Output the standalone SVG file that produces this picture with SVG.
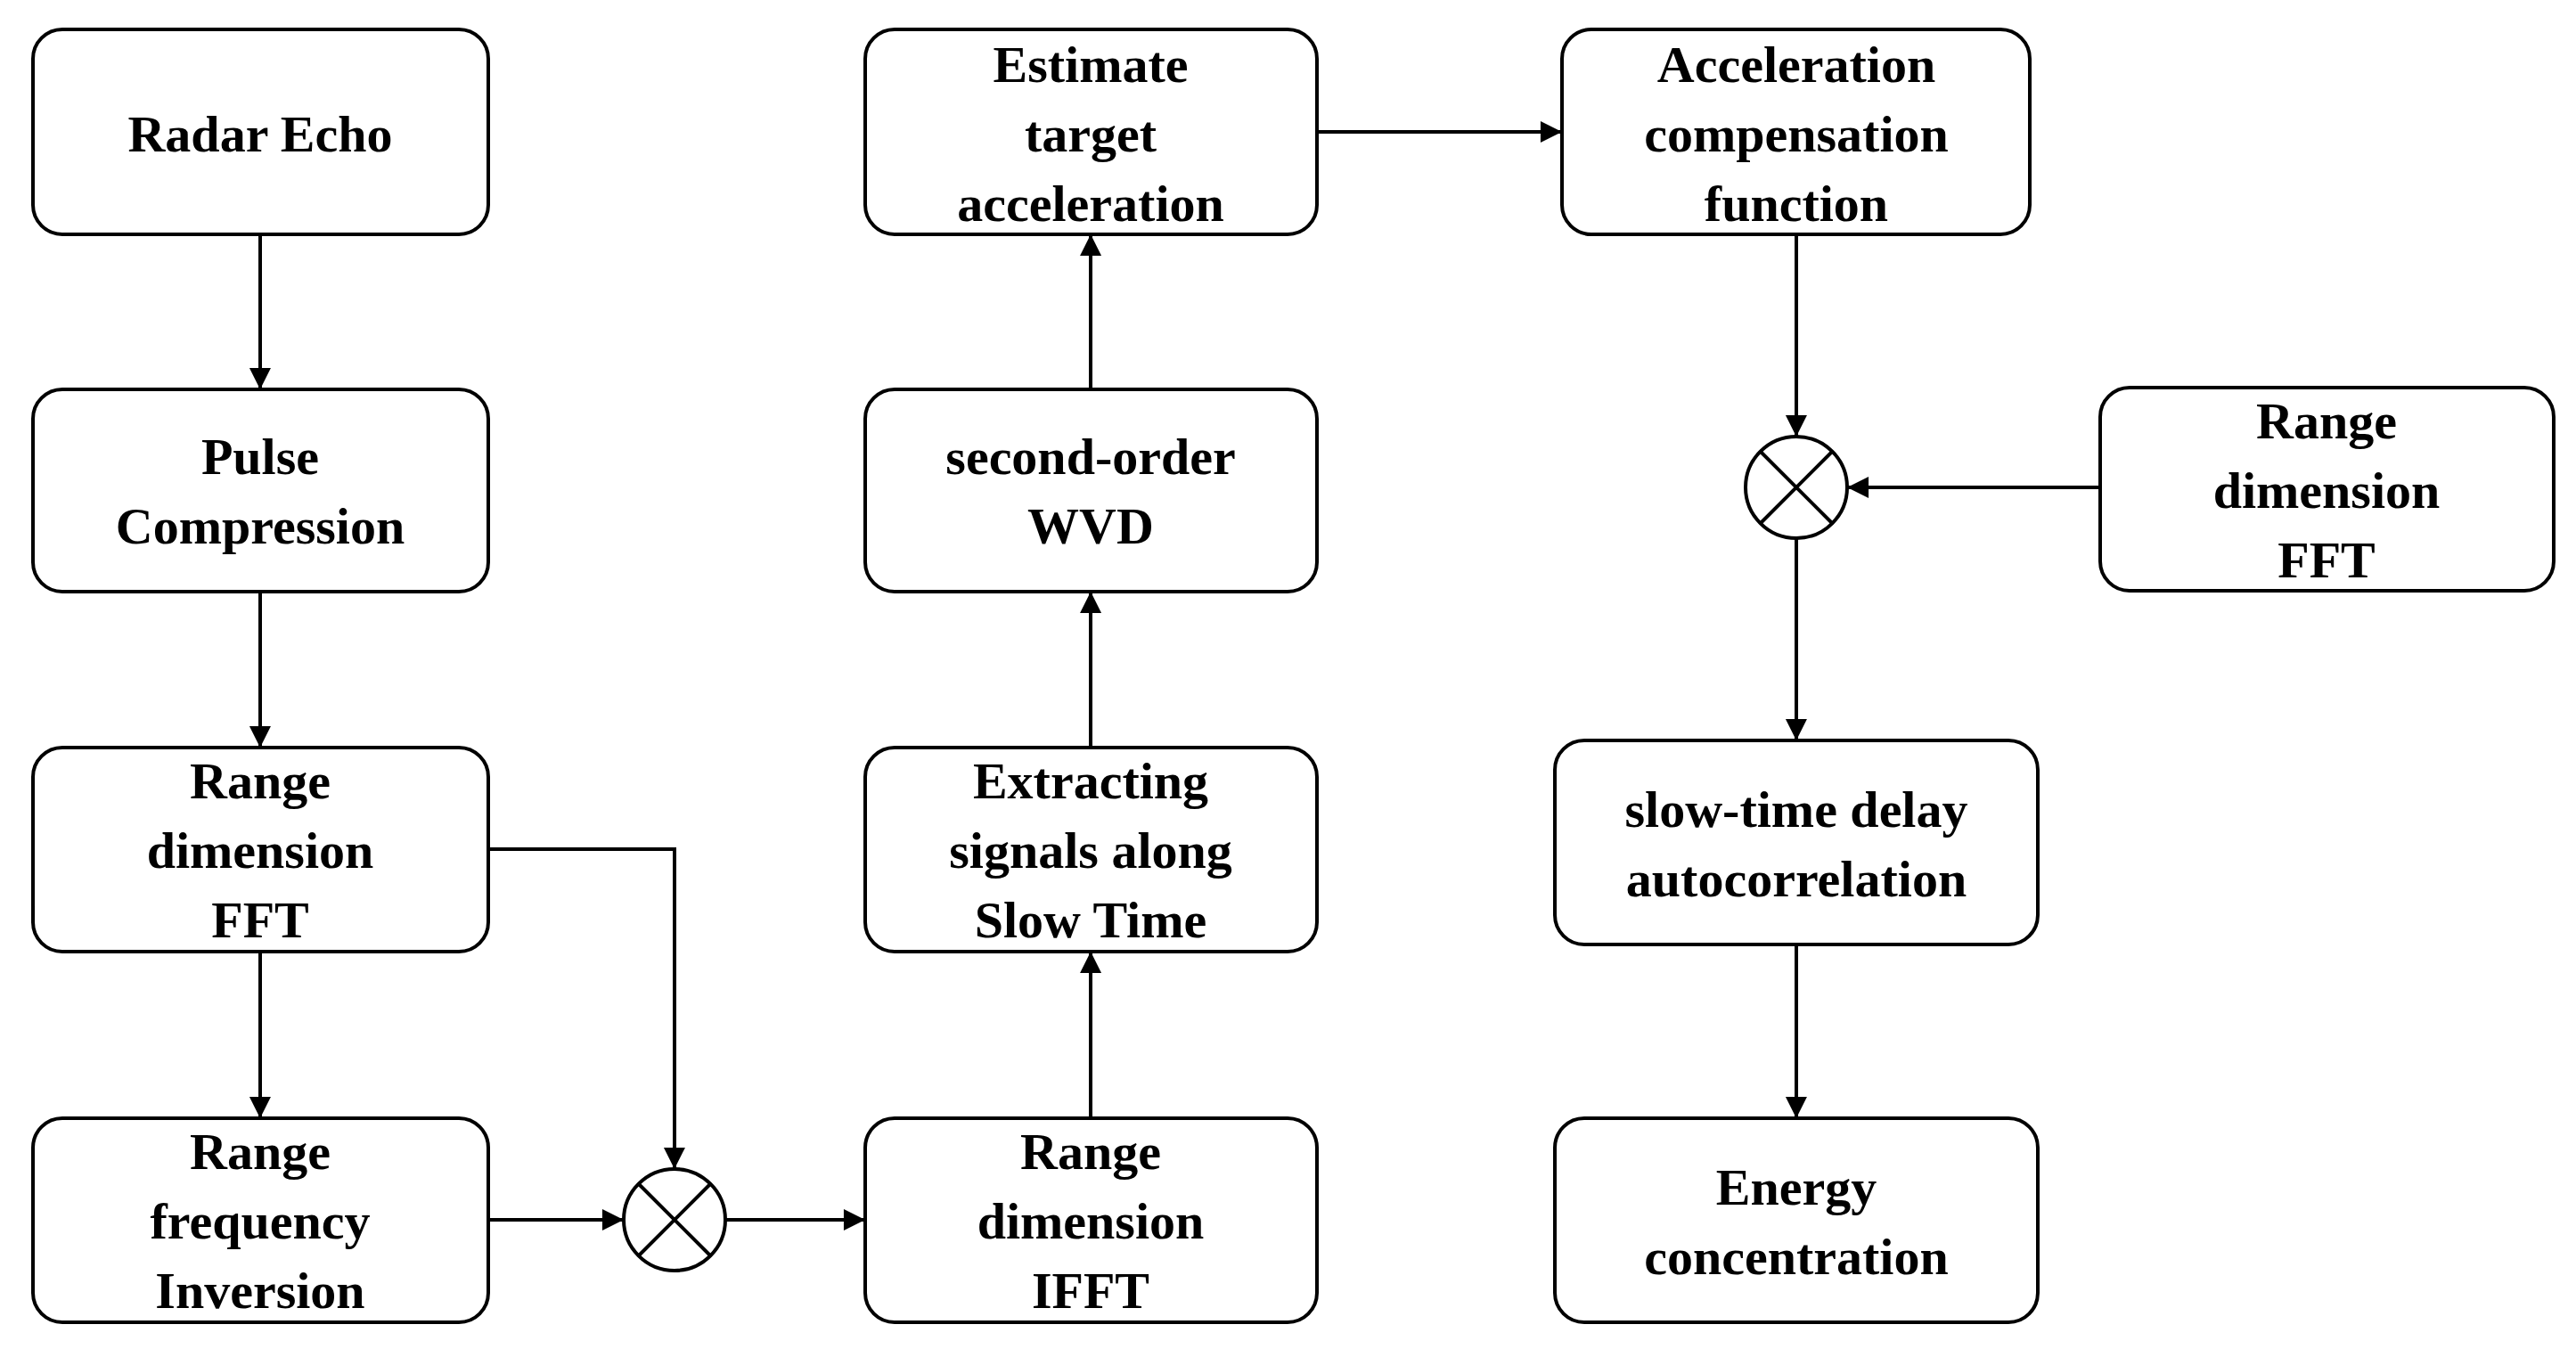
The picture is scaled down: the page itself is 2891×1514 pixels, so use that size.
<svg xmlns="http://www.w3.org/2000/svg" width="2891" height="1514" viewBox="0 0 2891 1514">
<style>
.b{fill:#fff;stroke:#000;stroke-width:4}
.t{font-family:"Liberation Serif",serif;font-weight:bold;font-size:58px;text-anchor:middle;dominant-baseline:central}
.c{fill:none;stroke:#000;stroke-width:4;marker-end:url(#a)}
</style>
<defs><marker id="a" viewBox="0 0 10 10" refX="10" refY="5" markerWidth="8" markerHeight="8" markerUnits="userSpaceOnUse" orient="auto" style="overflow:visible"><path d="M0,0L10,5L0,10z" transform="scale(3)translate(-6.7,-3.3)"/></marker></defs>
<rect width="2891" height="1514" fill="#fff"/>
<g id="connectors">
<path class="c" d="M292,263V437"/>
<path class="c" d="M292,664V839"/>
<path class="c" d="M292,1068V1255"/>
<path class="c" d="M548,953H757V1312"/>
<path class="c" d="M548,1369H700"/>
<path class="c" d="M814,1369H971"/>
<path class="c" d="M1224,1255V1068"/>
<path class="c" d="M1224,839V664"/>
<path class="c" d="M1224,437V263"/>
<path class="c" d="M1478,148H1753"/>
<path class="c" d="M2016,263V490"/>
<path class="c" d="M2357,547H2073"/>
<path class="c" d="M2016,604V831"/>
<path class="c" d="M2016,1060V1255"/>
</g>
<g id="radar"><rect class="b" x="37" y="33" width="511" height="230" rx="33"/><text class="t" x="292" y="150">Radar Echo</text></g>
<g id="pulse"><rect class="b" x="37" y="437" width="511" height="227" rx="33"/><text class="t" x="292" y="512">Pulse</text><text class="t" x="292" y="590">Compression</text></g>
<g id="fft1"><rect class="b" x="37" y="839" width="511" height="229" rx="33"/><text class="t" x="292" y="876">Range</text><text class="t" x="292" y="954">dimension</text><text class="t" x="292" y="1032">FFT</text></g>
<g id="inv"><rect class="b" x="37" y="1255" width="511" height="229" rx="33"/><text class="t" x="292" y="1292">Range</text><text class="t" x="292" y="1370">frequency</text><text class="t" x="292" y="1448">Inversion</text></g>
<g id="mul1"><circle class="b" cx="757" cy="1369" r="57"/><path d="M717,1329L797,1409M797,1329L717,1409" stroke="#000" stroke-width="4"/></g>
<g id="ifft"><rect class="b" x="971" y="1255" width="507" height="229" rx="33"/><text class="t" x="1224" y="1292">Range</text><text class="t" x="1224" y="1370">dimension</text><text class="t" x="1224" y="1448">IFFT</text></g>
<g id="extract"><rect class="b" x="971" y="839" width="507" height="229" rx="33"/><text class="t" x="1224" y="876">Extracting</text><text class="t" x="1224" y="954">signals along</text><text class="t" x="1224" y="1032">Slow Time</text></g>
<g id="wvd"><rect class="b" x="971" y="437" width="507" height="227" rx="33"/><text class="t" x="1224" y="512">second-order</text><text class="t" x="1224" y="590">WVD</text></g>
<g id="estimate"><rect class="b" x="971" y="33" width="507" height="230" rx="33"/><text class="t" x="1224" y="72">Estimate</text><text class="t" x="1224" y="150">target</text><text class="t" x="1224" y="228">acceleration</text></g>
<g id="accel"><rect class="b" x="1753" y="33" width="525" height="230" rx="33"/><text class="t" x="2016" y="72">Acceleration</text><text class="t" x="2016" y="150">compensation</text><text class="t" x="2016" y="228">function</text></g>
<g id="mul2"><circle class="b" cx="2016" cy="547" r="57"/><path d="M1976,507L2056,587M2056,507L1976,587" stroke="#000" stroke-width="4"/></g>
<g id="fft2"><rect class="b" x="2357" y="435" width="509" height="228" rx="33"/><text class="t" x="2611" y="472">Range</text><text class="t" x="2611" y="550">dimension</text><text class="t" x="2611" y="628">FFT</text></g>
<g id="slow"><rect class="b" x="1745" y="831" width="542" height="229" rx="33"/><text class="t" x="2016" y="908">slow-time delay</text><text class="t" x="2016" y="986">autocorrelation</text></g>
<g id="energy"><rect class="b" x="1745" y="1255" width="542" height="229" rx="33"/><text class="t" x="2016" y="1332">Energy</text><text class="t" x="2016" y="1410">concentration</text></g>
</svg>
